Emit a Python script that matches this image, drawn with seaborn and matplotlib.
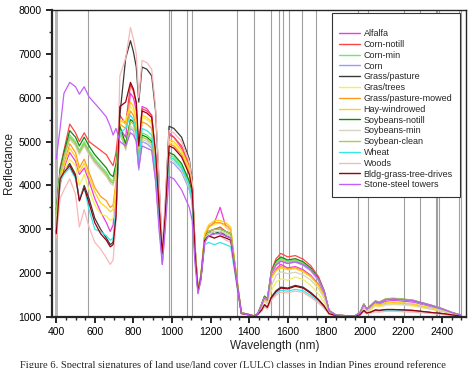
import numpy as np
import pandas as pd
import matplotlib
matplotlib.use('Agg')
import matplotlib.pyplot as plt
import seaborn as sns
from matplotlib.ticker import MultipleLocator

# wavelength grid (nm) shared by all classes
wavelength = [400, 420, 440, 470, 500, 520, 545, 570, 600, 630,
              660, 680, 695, 710, 730, 760, 785, 800, 815, 828,
              845, 870, 895, 915, 935, 950, 965, 985, 1010, 1050,
              1090, 1105, 1120, 1135, 1150, 1170, 1190, 1220, 1250, 1280,
              1305, 1330, 1360, 1400, 1425, 1445, 1465, 1480, 1495, 1515,
              1540, 1565, 1600, 1640, 1680, 1720, 1760, 1790, 1815, 1850,
              1900, 1950, 1975, 1995, 2010, 2030, 2055, 2075, 2110, 2150,
              2200, 2250, 2300, 2350, 2400, 2450, 2500]

alfalfa = [3100, 4000, 4400, 4750, 4550, 4250, 4400, 4100, 3700, 3400,
           3150, 2950, 3100, 3900, 5300, 5100, 6100, 6000, 5700, 4600,
           5800, 5750, 5600, 4700, 3300, 2200, 3100, 5200, 5100, 4850,
           4400, 4000, 2500, 1550, 1850, 2850, 3050, 3150, 3500, 3050,
           2950, 2000, 1090, 1050, 1020, 1070, 1250, 1420, 1350, 1900,
           2100, 2200, 2120, 2150, 2080, 1950, 1750, 1500, 1130, 1040,
           1030, 1030, 1080, 1250, 1150, 1220, 1320, 1290, 1360, 1380,
           1360, 1340, 1290, 1230, 1170, 1090, 1030]
corn_notill = [3300, 4400, 4800, 5400, 5200, 5000, 5200, 5000, 4900, 4800,
               4700, 4550, 4450, 4750, 5600, 5400, 6300, 6150, 5850, 4700,
               5750, 5700, 5600, 4700, 3400, 2500, 3400, 5150, 5100, 4900,
               4450, 4150, 2600, 1650, 1950, 2800, 2950, 3000, 3050, 2950,
               2900, 2100, 1100, 1060, 1030, 1080, 1300, 1480, 1420, 2050,
               2330, 2450, 2370, 2400, 2320, 2170, 1920, 1600, 1150, 1050,
               1030, 1030, 1100, 1300, 1190, 1260, 1360, 1330, 1410, 1420,
               1400, 1370, 1310, 1250, 1180, 1100, 1040]
corn_min = [3400, 4300, 4700, 5150, 5000, 4800, 5000, 4800, 4600, 4450,
            4300, 4150, 4100, 4400, 5300, 4900, 5500, 5450, 5200, 4450,
            5200, 5150, 5050, 4300, 3100, 2400, 3200, 4700, 4650, 4450,
            4050, 3750, 2400, 1600, 1900, 2750, 2900, 2950, 2950, 2900,
            2850, 2050, 1090, 1050, 1020, 1070, 1280, 1450, 1390, 2000,
            2250, 2340, 2270, 2300, 2230, 2090, 1860, 1560, 1140, 1045,
            1030, 1030, 1090, 1280, 1180, 1250, 1350, 1320, 1400, 1410,
            1395, 1370, 1310, 1250, 1180, 1100, 1035]
corn = [3350, 4250, 4650, 5100, 4950, 4750, 4950, 4750, 4550, 4400,
        4250, 4100, 4050, 4350, 5200, 4850, 5300, 5250, 5000, 4350,
        5000, 4950, 4850, 4150, 3000, 2350, 3100, 4550, 4500, 4300,
        3900, 3600, 2350, 1580, 1880, 2700, 2850, 2900, 2900, 2850,
        2800, 2000, 1085, 1050, 1020, 1070, 1270, 1440, 1380, 1980,
        2200, 2280, 2220, 2250, 2180, 2050, 1830, 1540, 1135, 1040,
        1030, 1030, 1090, 1270, 1170, 1240, 1340, 1310, 1390, 1400,
        1385, 1360, 1300, 1240, 1175, 1095, 1035]
grass_pasture = [2950, 4200, 4350, 4500, 4250, 3650, 4000, 3700, 3250, 3000,
                 2800, 2650, 2700, 3300, 5600, 6900, 7300, 7050, 6700, 5900,
                 6700, 6650, 6500, 5700, 3900, 2500, 3500, 5350, 5300, 5100,
                 4600, 4100, 2600, 1650, 1900, 2850, 2950, 2900, 2950, 2850,
                 2800, 2000, 1080, 1050, 1020, 1060, 1160, 1280, 1220, 1450,
                 1600, 1680, 1660, 1720, 1680, 1560, 1400, 1250, 1080, 1035,
                 1025, 1025, 1050, 1150, 1090, 1110, 1160, 1150, 1170, 1170,
                 1160, 1150, 1125, 1100, 1080, 1050, 1020]
gras_trees = [3000, 4100, 4300, 4600, 4450, 4000, 4250, 3900, 3550, 3350,
              3300, 3200, 3250, 3900, 5400, 5500, 5800, 5700, 5450, 4600,
              5550, 5500, 5400, 4600, 3300, 2400, 3300, 5000, 4950, 4750,
              4350, 4000, 2550, 1650, 1950, 2900, 3050, 3100, 3150, 3050,
              2950, 2050, 1085, 1050, 1020, 1065, 1200, 1350, 1290, 1600,
              1800, 1870, 1840, 1910, 1860, 1720, 1530, 1330, 1090, 1035,
              1025, 1025, 1060, 1200, 1120, 1160, 1250, 1230, 1270, 1280,
              1270, 1250, 1210, 1170, 1130, 1070, 1025]
grass_mowed = [3150, 4150, 4500, 4950, 4750, 4400, 4600, 4300, 3950, 3750,
               3650, 3500, 3550, 4100, 5400, 5300, 5700, 5600, 5350, 4550,
               5450, 5400, 5300, 4500, 3250, 2400, 3300, 4950, 4900, 4700,
               4300, 3950, 2500, 1600, 1900, 2850, 3050, 3150, 3150, 3100,
               3000, 2050, 1090, 1050, 1020, 1070, 1260, 1420, 1350, 1900,
               2080, 2150, 2100, 2120, 2050, 1930, 1730, 1480, 1120, 1040,
               1030, 1030, 1080, 1240, 1140, 1200, 1300, 1270, 1320, 1330,
               1310, 1290, 1240, 1190, 1140, 1080, 1030]
hay_windrowed = [3100, 4100, 4450, 4850, 4650, 4300, 4500, 4200, 3850, 3600,
                 3500, 3400, 3450, 4000, 5500, 5400, 5900, 5800, 5500, 4650,
                 5600, 5550, 5450, 4600, 3300, 2450, 3350, 5050, 5000, 4800,
                 4400, 4050, 2550, 1620, 1920, 2900, 3100, 3200, 3200, 3150,
                 3050, 2100, 1090, 1050, 1020, 1070, 1260, 1420, 1350, 1880,
                 2050, 2120, 2080, 2100, 2030, 1910, 1710, 1460, 1120, 1040,
                 1030, 1030, 1080, 1240, 1140, 1200, 1300, 1270, 1330, 1340,
                 1320, 1300, 1250, 1200, 1150, 1080, 1030]
soy_notill = [3450, 4350, 4750, 5250, 5100, 4900, 5100, 4900, 4700, 4550,
              4400, 4250, 4200, 4500, 5350, 4950, 5500, 5450, 5200, 4450,
              5150, 5100, 5000, 4300, 3100, 2400, 3250, 4750, 4700, 4500,
              4100, 3800, 2450, 1620, 1920, 2800, 2950, 3000, 3000, 2950,
              2900, 2050, 1095, 1055, 1025, 1075, 1290, 1470, 1400, 2020,
              2280, 2370, 2300, 2330, 2260, 2120, 1880, 1580, 1145, 1045,
              1030, 1030, 1095, 1290, 1185, 1255, 1360, 1330, 1410, 1420,
              1405, 1380, 1320, 1260, 1190, 1105, 1040]
soy_min = [3300, 4200, 4600, 5050, 4900, 4700, 4900, 4700, 4500, 4350,
           4200, 4050, 4000, 4300, 5200, 4800, 5350, 5300, 5050, 4400,
           5050, 5000, 4900, 4200, 3050, 2350, 3150, 4600, 4550, 4350,
           3950, 3650, 2400, 1600, 1880, 2750, 2900, 2950, 2950, 2900,
           2850, 2000, 1085, 1050, 1020, 1065, 1220, 1370, 1310, 1700,
           1950, 2030, 1990, 2020, 1960, 1840, 1650, 1420, 1100, 1040,
           1025, 1025, 1070, 1220, 1130, 1180, 1270, 1250, 1290, 1300,
           1290, 1270, 1220, 1180, 1140, 1080, 1030]
soy_clean = [3350, 4250, 4650, 5100, 4950, 4750, 4950, 4750, 4550, 4400,
             4250, 4100, 4050, 4350, 5250, 4850, 5450, 5400, 5150, 4400,
             5100, 5050, 4950, 4250, 3050, 2350, 3200, 4650, 4600, 4400,
             4000, 3700, 2400, 1600, 1900, 2800, 2950, 3000, 3000, 2950,
             2900, 2050, 1090, 1050, 1020, 1070, 1280, 1450, 1390, 2000,
             2230, 2310, 2250, 2280, 2210, 2080, 1850, 1560, 1140, 1045,
             1030, 1030, 1095, 1290, 1185, 1260, 1370, 1340, 1420, 1430,
             1410, 1385, 1325, 1265, 1195, 1110, 1040]
wheat = [2950, 4100, 4250, 4400, 4150, 3700, 3950, 3450, 3000, 2950,
         2850, 2750, 2800, 3500, 5200, 5300, 5600, 5500, 5250, 4500,
         5300, 5250, 5150, 4350, 3100, 2350, 3200, 4650, 4600, 4400,
         4000, 3650, 2350, 1580, 1850, 2650, 2700, 2650, 2700, 2650,
         2600, 1900, 1080, 1045, 1015, 1055, 1140, 1250, 1200, 1400,
         1540, 1610, 1590, 1630, 1600, 1490, 1350, 1210, 1070, 1030,
         1020, 1020, 1045, 1130, 1080, 1100, 1140, 1130, 1150, 1150,
         1140, 1130, 1110, 1090, 1070, 1045, 1015]
woods = [2800, 3700, 3900, 4150, 3800, 3050, 3450, 3050, 2700, 2550,
         2350, 2200, 2300, 3200, 6500, 6900, 7600, 7350, 7000, 6000,
         6850, 6800, 6650, 5800, 4000, 2600, 3600, 5250, 5200, 5000,
         4550, 4050, 2550, 1600, 1850, 2750, 2850, 2800, 2850, 2750,
         2700, 1950, 1075, 1045, 1015, 1055, 1130, 1230, 1180, 1380,
         1500, 1560, 1550, 1590, 1560, 1450, 1320, 1190, 1060, 1030,
         1020, 1020, 1040, 1110, 1070, 1090, 1120, 1110, 1130, 1130,
         1120, 1110, 1095, 1080, 1060, 1040, 1015]
bldg = [2900, 4150, 4300, 4450, 4200, 3650, 3950, 3600, 3150, 2900,
        2750, 2600, 2650, 3300, 5800, 5900, 6350, 6200, 5900, 4900,
        5700, 5650, 5550, 4750, 3400, 2450, 3300, 4900, 4850, 4650,
        4250, 3900, 2450, 1600, 1880, 2750, 2850, 2800, 2850, 2800,
        2750, 1980, 1080, 1050, 1020, 1060, 1160, 1280, 1220, 1440,
        1580, 1660, 1640, 1700, 1660, 1540, 1390, 1240, 1075, 1035,
        1025, 1025, 1050, 1150, 1090, 1110, 1160, 1150, 1170, 1170,
        1160, 1150, 1125, 1100, 1080, 1050, 1020]
stone_steel = [4600, 5300, 6100, 6350, 6250, 6080, 6250, 6020, 5870, 5720,
               5560, 5350, 5150, 5300, 5000, 4900, 5200, 5150, 5000, 4400,
               4900, 4850, 4800, 4100, 2900, 2200, 3000, 4200, 4150, 3900,
               3500, 3200, 2200, 1530, 1850, 2700, 2850, 2900, 2900, 2850,
               2800, 2000, 1085, 1050, 1020, 1070, 1270, 1440, 1380, 1980,
               2180, 2270, 2220, 2260, 2200, 2080, 1860, 1570, 1140, 1045,
               1030, 1030, 1090, 1280, 1180, 1250, 1360, 1330, 1400, 1410,
               1395, 1375, 1320, 1260, 1190, 1105, 1040]

class_names = ['Alfalfa', 'Corn-notill', 'Corn-min', 'Corn', 'Grass/pasture',
               'Gras/trees', 'Grass/pasture-mowed', 'Hay-windrowed',
               'Soybeans-notill', 'Soybeans-min', 'Soybean-clean', 'Wheat',
               'Woods', 'Bldg-grass-tree-drives', 'Stone-steel towers']
class_values = [alfalfa, corn_notill, corn_min, corn, grass_pasture,
                gras_trees, grass_mowed, hay_windrowed, soy_notill, soy_min,
                soy_clean, wheat, woods, bldg, stone_steel]
class_colors = ['#f03cdc', '#ff4646', '#66ee66', '#9a9aff', '#3a3a3a',
                '#f5f050', '#ff9a1a', '#ffd21f', '#118811', '#d8d2c0',
                '#b0c850', '#33e8e8', '#f8b8b8', '#990011', '#c060f8']

# selected band positions (gray vertical lines)
band_lines = [566, 985, 994, 1079, 1105, 1338, 1426, 1514, 1555, 1576,
              1607, 1677, 1747, 1965, 2016, 2203, 2286, 2369, 2377, 2384,
              2488, 2498]

rows = []
for name, vals in zip(class_names, class_values):
    for wl, v in zip(wavelength, vals):
        rows.append({'Wavelength': wl, 'Reflectance': v, 'Class': name})
df = pd.DataFrame(rows)

sns.set_style('ticks')
plt.rcParams['font.family'] = ['Liberation Sans', 'DejaVu Sans']

fig = plt.figure(figsize=(4.74, 3.68), dpi=100)
ax = fig.add_axes([52 / 474, 1 - 317 / 368, 414 / 474, 307 / 368])

ax.axvline(398, color='#b8b8b8', lw=2.2, zorder=0)
for b in band_lines:
    ax.axvline(b, color='#a0a0a0', lw=0.8, zorder=0)

sns.lineplot(data=df, x='Wavelength', y='Reflectance', hue='Class',
             hue_order=class_names, palette=dict(zip(class_names, class_colors)),
             estimator=None, sort=False, lw=0.9, ax=ax)

ax.set_xlim(378, 2525)
ax.set_ylim(1000, 8000)
ax.xaxis.set_major_locator(MultipleLocator(200))
ax.xaxis.set_minor_locator(MultipleLocator(50))
ax.yaxis.set_major_locator(MultipleLocator(1000))
ax.yaxis.set_minor_locator(MultipleLocator(500))
ax.tick_params(axis='both', which='major', direction='out', length=4,
               width=1.2, labelsize=7.5, colors='black')
ax.tick_params(axis='both', which='minor', direction='out', length=2.5,
               width=1.0)
for side in ['left', 'bottom']:
    ax.spines[side].set_linewidth(1.6)
for side in ['top', 'right']:
    ax.spines[side].set_linewidth(1.0)

ax.set_xlabel('Wavelength (nm)', fontsize=8.5)
ax.set_ylabel('Reflectance', fontsize=8.5)
ax.xaxis.set_label_coords(0.539, -0.075)
ax.yaxis.set_label_coords(-0.09, 0.5)

leg = ax.legend(loc='upper right', bbox_to_anchor=(0.9855, 0.990),
                borderaxespad=0, fontsize=6.5, title=' ', title_fontsize=6,
                frameon=True, fancybox=False, framealpha=1,
                edgecolor='#333333', handlelength=2.3, handletextpad=0.4,
                labelspacing=0.2, borderpad=0.8)
leg.get_frame().set_linewidth(0.8)
for line in leg.get_lines():
    line.set_linewidth(1.0)

fig.text(20 / 474, 1 - 360 / 368,
         'Figure 6. Spectral signatures of land use/land cover (LULC) classes '
         'in Indian Pines ground reference',
         fontsize=7.6, family=['Liberation Serif', 'DejaVu Serif'], va='top')

fig.savefig('out.png', dpi=100)
